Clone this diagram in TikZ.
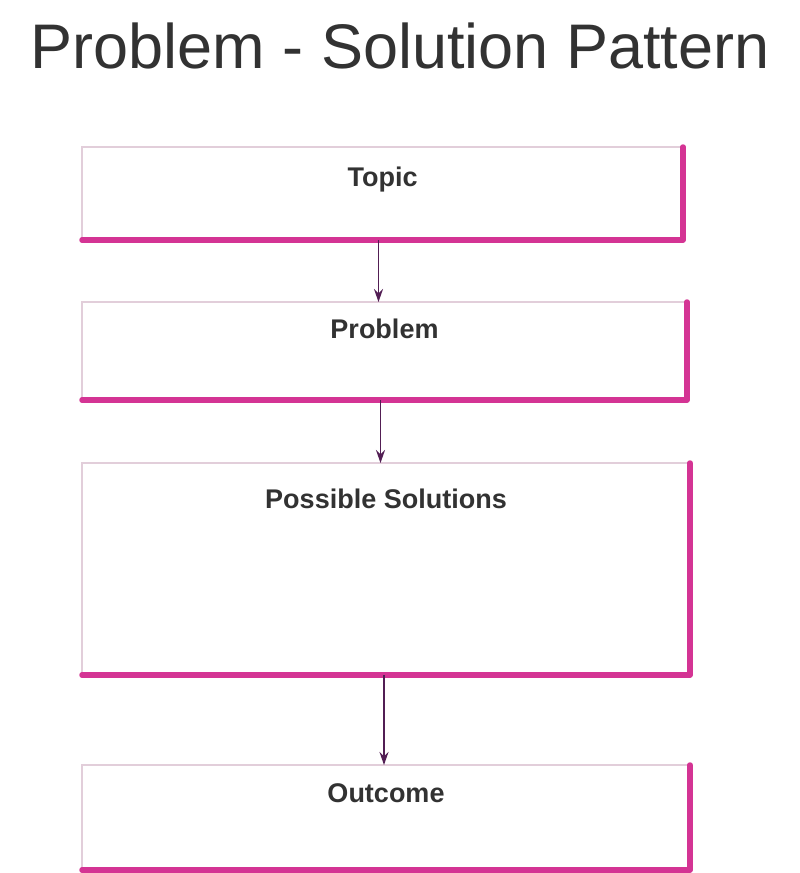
\documentclass[tikz,border=0pt]{standalone}
\usepackage{fontspec}
\setmainfont{Liberation Sans}
\usetikzlibrary{arrows.meta, positioning, calc}

\definecolor{rimpink}{RGB}{226,206,218}
\definecolor{edgemagenta}{RGB}{212,52,148}
\definecolor{flowpurple}{RGB}{82,30,84}
\definecolor{inkgray}{RGB}{50,50,50}

\begin{document}
\begin{tikzpicture}[
                    x=1pt, y=-1pt,
                    box/.style={rectangle, draw=rimpink, line width=1.6pt, fill=white,
                                minimum width=606pt, inner sep=0pt, outer sep=0pt},
                    boxtext/.style={text=inkgray, font=\fontsize{27}{27}\selectfont\bfseries, anchor=base},
                    edge/.style={draw=edgemagenta, line width=5.5pt, line cap=round, line join=round},
                    flow/.style={-{Stealth[length=13pt, width=9pt]}, draw=flowpurple, line width=1.6pt}
                ]

                % Canvas
                \useasboundingbox (0,0) rectangle (800,873);

                % Title
                \node[text=inkgray, font=\fontsize{63}{63}\selectfont, anchor=base] (title) at (400,68) {Problem - Solution Pattern};

                % Define the boxes
                \node[box, minimum height=93pt, minimum width=601pt, anchor=north west] (topic) at (82,147) {};
                \node[box, minimum height=98pt, minimum width=605pt, below=62pt of topic.south west, anchor=north west] (problem) {};
                \node[box, minimum height=212pt, minimum width=608pt, below=63pt of problem.south west, anchor=north west] (solutions) {};
                \node[box, minimum height=105pt, minimum width=608pt, below=90pt of solutions.south west, anchor=north west] (outcome) {};

                % Thick right and bottom edges
                \draw[edge] (topic.north east) -- (topic.south east) -- (topic.south west);
                \draw[edge] (problem.north east) -- (problem.south east) -- (problem.south west);
                \draw[edge] (solutions.north east) -- (solutions.south east) -- (solutions.south west);
                \draw[edge] (outcome.north east) -- (outcome.south east) -- (outcome.south west);

                % Box titles
                \node[boxtext] (topictext) at ([yshift=-39pt]topic.north) {Topic};
                \node[boxtext] (problemtext) at ([yshift=-36pt]problem.north) {Problem};
                \node[boxtext] (solutionstext) at ([yshift=-45pt]solutions.north) {Possible Solutions};
                \node[boxtext] (outcometext) at ([yshift=-37pt]outcome.north) {Outcome};

                % Draw the arrows
                \draw[flow] ([xshift=-4pt]topic.south) -- ([xshift=-4pt]topic.south |- problem.north);
                \draw[flow] ([xshift=-4pt]problem.south) -- ([xshift=-4pt]problem.south |- solutions.north);
                \draw[flow] ([xshift=-2pt]solutions.south) -- ([xshift=-2pt]solutions.south |- outcome.north);
\end{tikzpicture}
\end{document}
